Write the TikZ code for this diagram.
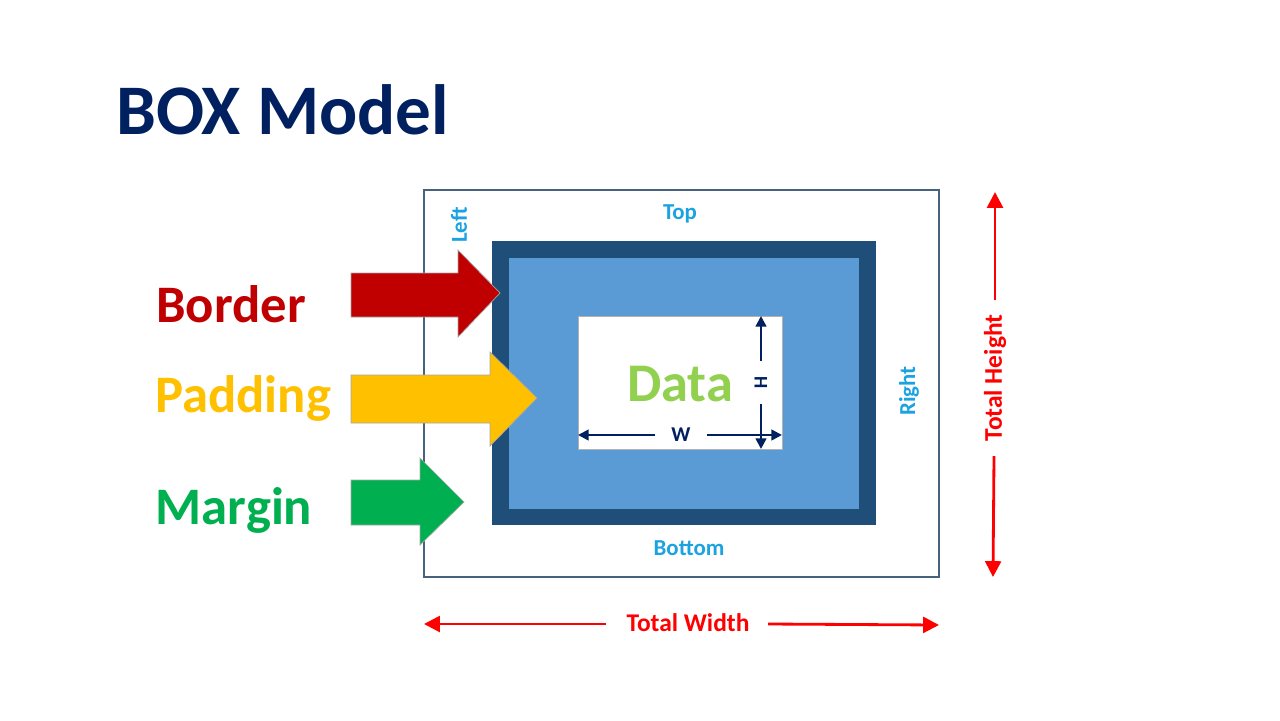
\documentclass[tikz,border=0pt]{standalone}
\usepackage{fontspec}
\setmainfont{Carlito}
\usetikzlibrary{arrows.meta}
\definecolor{navy}{HTML}{002060}
\definecolor{bord}{HTML}{1F4E79}
\definecolor{pad}{HTML}{5B9BD5}
\definecolor{lbl}{HTML}{1AA3E0}
\definecolor{dred}{HTML}{C00000}
\definecolor{gold}{HTML}{FFC000}
\definecolor{grn}{HTML}{00B050}
\definecolor{dgreen}{HTML}{92D050}
\begin{document}
\begin{tikzpicture}[x=0.02cm,y=-0.02cm,
  lab/.style={text=lbl,font=\bfseries\fontsize{13}{15}\selectfont},
  big/.style={font=\bfseries\fontsize{30}{36}\selectfont},
  tot/.style={red,line width=1.6pt,-{Triangle[length=9pt,width=9pt]}},
  dim/.style={navy,line width=1.3pt,-{Triangle[length=6pt,width=6pt]}},
  blk/.style={draw=gray!70,line width=0.4pt}]
\useasboundingbox (0,0) rectangle (1280,720);
\node[anchor=west,text=navy,font=\bfseries\fontsize{40.5}{46}\selectfont] (title) at (110,110) {BOX Model};
% boxes
\draw[draw=bord!60!gray,line width=0.6pt] (424,190) rectangle (939,577);
\fill[bord] (492,241) rectangle (876,525);
\fill[pad] (509,258) rectangle (859,509);
\draw[fill=white,draw=gray!60,line width=0.4pt] (578,316) rectangle (782,449);
% block arrows
\draw[blk,fill=dred] (351,273)--(458,273)--(458,250)--(500,293)--(458,337)--(458,317)--(351,317)--cycle;
\draw[blk,fill=gold] (351,375)--(490,375)--(490,352)--(537,398)--(490,446)--(490,423)--(351,423)--cycle;
\draw[blk,fill=grn] (351,480)--(420,480)--(420,458)--(464,502)--(420,545)--(420,525)--(351,525)--cycle;
\node[big,text=dred] (border) at (231,304) {Border};
\node[big,text=gold] (padding) at (243,398) {Padding};
\node[big,text=grn] (margin) at (234,510) {Margin};
% labels
\node[lab] (top) at (680,214) {Top};
\node[lab] (bottom) at (689,548) {Bottom};
\node[lab,rotate=90] (left) at (459,225) {Left};
\node[lab,rotate=90] (right) at (909,391) {Right};
% data
\node[text=dgreen,font=\bfseries\fontsize{31}{36}\selectfont] (data) at (680,384) {Data};
\node[text=navy,font=\bfseries\fontsize{12}{14}\selectfont] (w) at (681,435) {W};
\node[text=navy,font=\bfseries\fontsize{11}{13}\selectfont,rotate=-90] (h) at (761,383) {H};
\coordinate (wl) at (578,435); \coordinate (wr) at (782,435);
\coordinate (wa) at (655,435); \coordinate (wb) at (707,435);
\coordinate (ht) at (761,316); \coordinate (hb) at (761,449);
\coordinate (ha) at (761,361); \coordinate (hc) at (761,404);
\draw[dim] (wa) -- (wl);
\draw[dim] (wb) -- (wr);
\draw[dim] (ha) -- (ht);
\draw[dim] (hc) -- (hb);
% totals
\node[text=red,font=\bfseries\fontsize{14.5}{17}\selectfont] (tw) at (688,623) {Total Width};
\coordinate (twl) at (424,624); \coordinate (twr) at (939,625);
\coordinate (twa) at (606,624); \coordinate (twb) at (768,624);
\draw[tot] (twa) -- (twl);
\draw[tot] (twb) -- (twr);
\node[text=red,font=\bfseries\fontsize{14.5}{17}\selectfont,rotate=90] (th) at (995,378) {Total Height};
\coordinate (tht) at (995,192); \coordinate (thb) at (993,577);
\coordinate (tha) at (995,300); \coordinate (thc) at (994,456);
\draw[tot] (tha) -- (tht);
\draw[tot] (thc) -- (thb);
\end{tikzpicture}
\end{document}
